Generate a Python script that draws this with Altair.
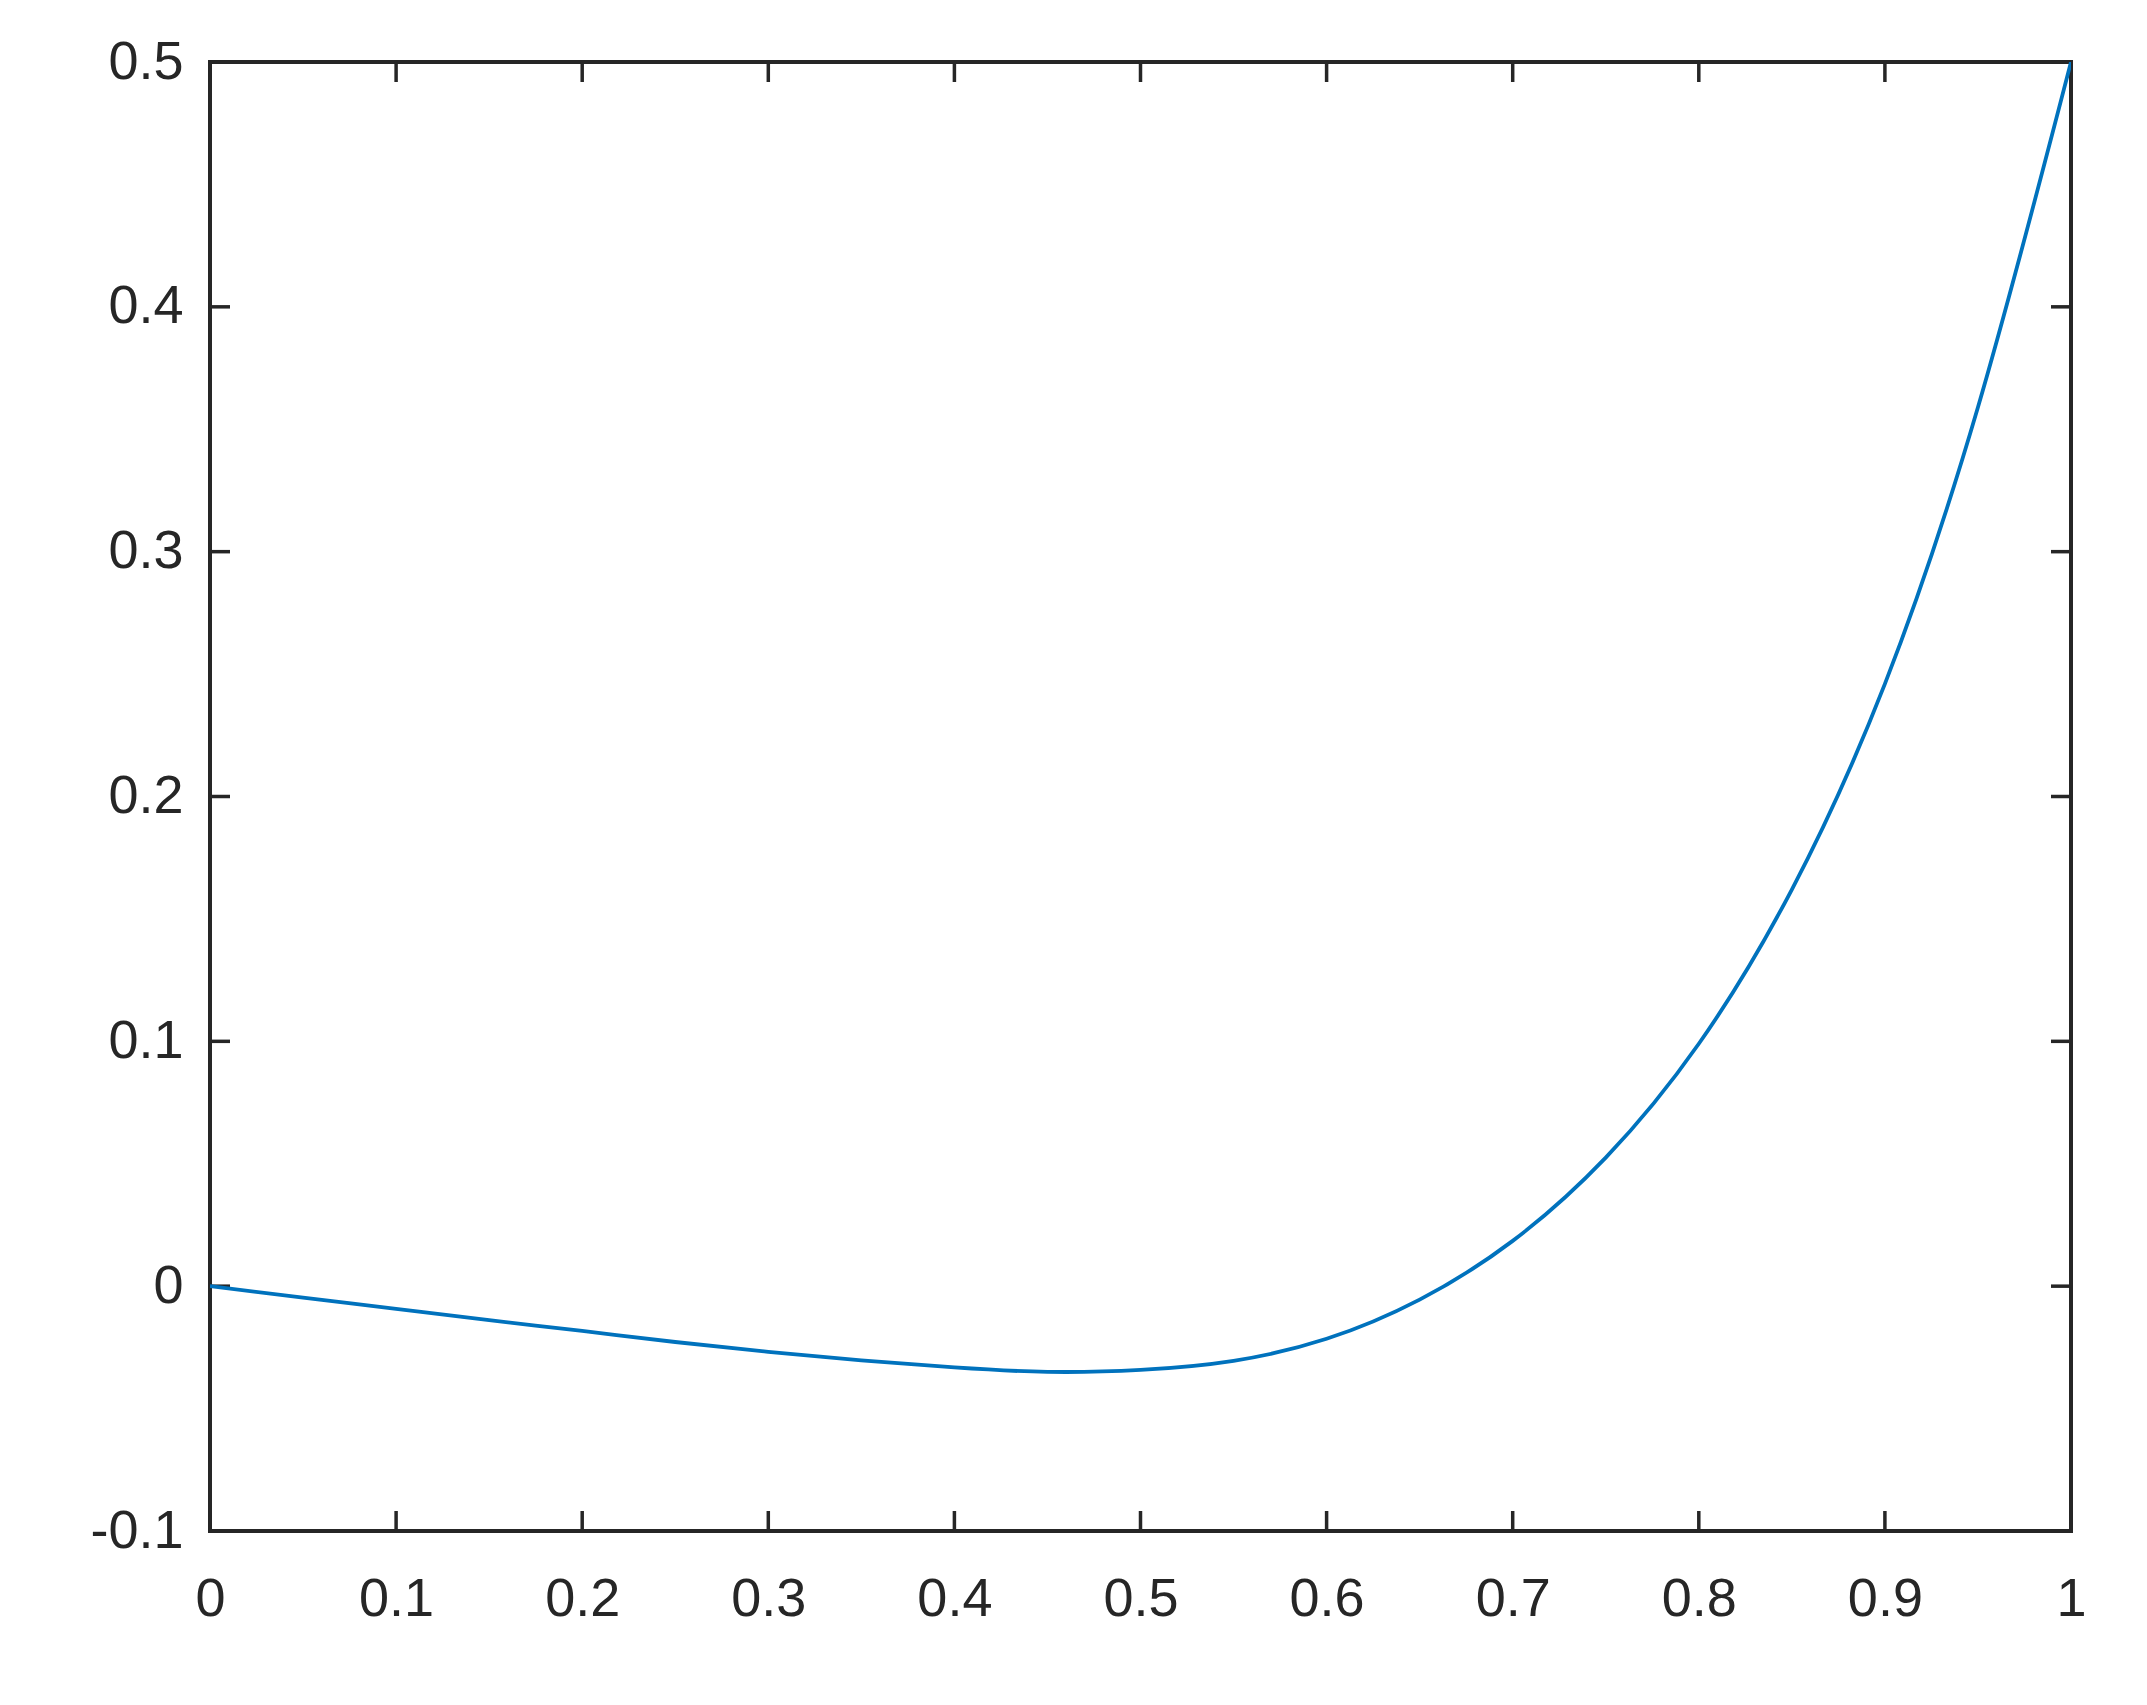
import altair as alt
import pandas as pd

# curve
x_vals = [0, 0.05, 0.1, 0.15, 0.2, 0.25, 0.3, 0.35, 0.4, 0.45, 0.5, 0.55,
          0.6, 0.65, 0.7, 0.75, 0.8, 0.85, 0.9, 0.95, 1.0]
y_vals = [0, -0.0047, -0.0093, -0.0139, -0.0183, -0.0228, -0.0268, -0.0303,
          -0.0332, -0.0350, -0.0342, -0.0305, -0.0215, -0.0055, 0.0185,
          0.0525, 0.0990, 0.1620, 0.2460, 0.3590, 0.5]

x_ticks = [0, 0.1, 0.2, 0.3, 0.4, 0.5, 0.6, 0.7, 0.8, 0.9, 1]
y_ticks = [-0.1, 0, 0.1, 0.2, 0.3, 0.4, 0.5]

W, H = 1861, 1469
TICK = 20
AX = "#262626"
FONT = "Liberation Sans"

curve = pd.DataFrame({"x": x_vals, "y": y_vals})
xt = pd.DataFrame({"x": x_ticks})
yt = pd.DataFrame({"y": y_ticks})

xscale = alt.Scale(domain=[0, 1], nice=False, zero=False)
yscale = alt.Scale(domain=[-0.1, 0.5], nice=False, zero=False)

fix = "replace(datum.label, '\u2212', '-')"

xaxis = alt.Axis(values=x_ticks, format="~g", labelExpr=fix, ticks=False,
                 domain=False, grid=False, title=None, labelFontSize=54,
                 labelFont=FONT, labelColor=AX, labelPadding=41,
                 labelFlush=False, labelOverlap=False)
yaxis = alt.Axis(values=y_ticks, format="~g", labelExpr=fix, ticks=False,
                 domain=False, grid=False, title=None, labelFontSize=54,
                 labelFont=FONT, labelColor=AX, labelPadding=27,
                 labelFlush=False, labelOverlap=False)

line = alt.Chart(curve).mark_line(color="#0072BD", strokeWidth=3.8,
                                  interpolate="natural", clip=True).encode(
    x=alt.X("x:Q", scale=xscale, axis=xaxis),
    y=alt.Y("y:Q", scale=yscale, axis=yaxis),
)

bt = alt.Chart(xt).mark_rule(color=AX, strokeWidth=3.5).encode(
    x=alt.X("x:Q", scale=xscale, axis=xaxis),
    y=alt.value(H), y2=alt.value(H - TICK))
tt = alt.Chart(xt).mark_rule(color=AX, strokeWidth=3.5).encode(
    x=alt.X("x:Q", scale=xscale, axis=xaxis),
    y=alt.value(0), y2=alt.value(TICK))
lt = alt.Chart(yt).mark_rule(color=AX, strokeWidth=3.5).encode(
    y=alt.Y("y:Q", scale=yscale, axis=yaxis),
    x=alt.value(0), x2=alt.value(TICK))
rt = alt.Chart(yt).mark_rule(color=AX, strokeWidth=3.5).encode(
    y=alt.Y("y:Q", scale=yscale, axis=yaxis),
    x=alt.value(W), x2=alt.value(W - TICK))

chart = alt.layer(bt, tt, lt, rt, line).properties(
    width=W, height=H,
    background="white",
    autosize=alt.AutoSizeParams(type="none"),
    padding={"left": 202, "top": 54, "right": 60, "bottom": 150},
).configure_view(stroke=AX, strokeWidth=4)

chart.save("out.html", embed_options={"renderer": "svg", "actions": False})
